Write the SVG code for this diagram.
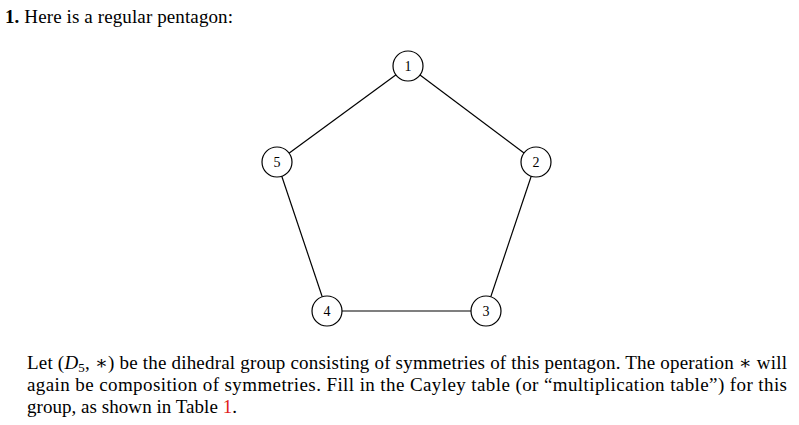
<svg xmlns="http://www.w3.org/2000/svg" width="799" height="425" viewBox="0 0 799 425">
<style>
text{font-family:"Liberation Serif","DejaVu Serif",serif;font-size:19px;fill:#000}
.n circle{fill:#fff;stroke:#000;stroke-width:1.2}
.n text{font-size:14px;text-anchor:middle}
.e line{stroke:#000;stroke-width:1.2}
</style>
<rect width="799" height="425" fill="#fff"/>
<text x="5" y="23" textLength="228"><tspan font-weight="bold">1.</tspan> Here is a regular pentagon:</text>
<g class="e">
<line x1="408" y1="66" x2="536" y2="162"/>
<line x1="536" y1="162" x2="486" y2="311"/>
<line x1="486" y1="311" x2="327" y2="311"/>
<line x1="327" y1="311" x2="277" y2="162"/>
<line x1="277" y1="162" x2="408" y2="66"/>
</g>
<g id="n1" class="n"><circle cx="408" cy="66" r="15"/><text x="408" y="71">1</text></g>
<g id="n2" class="n"><circle cx="536" cy="162" r="15"/><text x="536" y="167">2</text></g>
<g id="n3" class="n"><circle cx="486" cy="311" r="15"/><text x="486" y="316">3</text></g>
<g id="n4" class="n"><circle cx="327" cy="311" r="15"/><text x="327" y="316">4</text></g>
<g id="n5" class="n"><circle cx="277" cy="162" r="15"/><text x="277" y="167">5</text></g>
<text x="27" y="369" textLength="760" lengthAdjust="spacing">Let (<tspan font-style="italic">D</tspan><tspan font-size="13" dy="3">5</tspan><tspan dy="-3">, ∗) be the dihedral group consisting of symmetries of this pentagon. The operation ∗ will</tspan></text>
<text x="27" y="391" textLength="760" lengthAdjust="spacing">again be composition of symmetries. Fill in the Cayley table (or “multiplication table”) for this</text>
<text x="27" y="413" textLength="210">group, as shown in Table <tspan fill="#e0201b">1</tspan>.</text>
</svg>
